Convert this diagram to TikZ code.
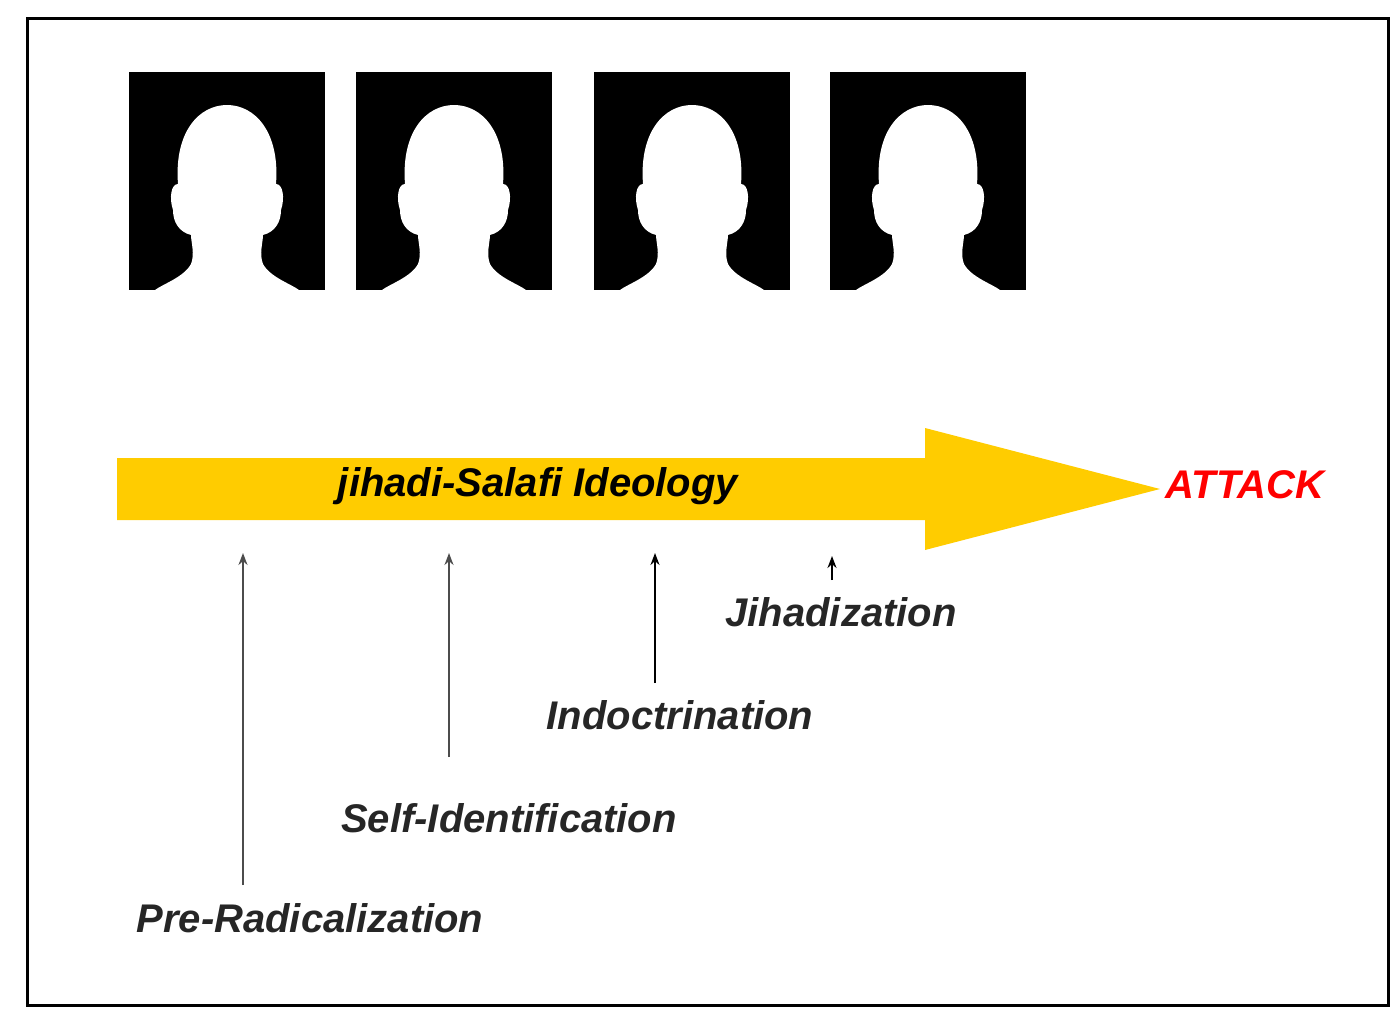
\documentclass[tikz,border=0pt]{standalone}
\usepackage{fontspec}
\setmainfont{Liberation Sans}
\usetikzlibrary{arrows.meta}
\definecolor{ayellow}{RGB}{255,204,0}
\tikzset{
  lbl/.style={font=\fontsize{40}{42}\selectfont\bfseries\itshape, text=black!85},
  up/.style={-{Stealth[length=12pt,width=9pt]}, line width=2pt, draw=black!70},
  person/.pic={
    \fill[black] (0,0) rectangle (196,218);
    \fill[white] (26,218) .. controls (34,212) and (55,205) .. (62,192)
      .. controls (66,182) and (62,170) .. (62,163)
      .. controls (50,160) and (44,150) .. (44,138) .. controls (40,126) and (42,112) .. (49,112)
      .. controls (45,60) and (70,33) .. (98,33)
      .. controls (126,33) and (151,60) .. (147,112)
      .. controls (154,112) and (156,126) .. (152,138) .. controls (152,150) and (146,160) .. (134,163)
      .. controls (134,170) and (130,182) .. (134,192)
      .. controls (141,205) and (162,212) .. (170,218) -- cycle;
  }
}
\begin{document}
\begin{tikzpicture}[x=1pt,y=-1pt]
\useasboundingbox (0,0) rectangle (1397,1009);
\draw[line width=3pt] (27,18) rectangle (1388,1005);
\foreach \x/\n in {129/a,356/b,594/c,830/d}
  \pic (p\n) at (\x,72) {person};
\fill[ayellow] (117,458) -- (925,458) -- (925,428) -- (1160,489) -- (925,550) -- (925,520) -- (117,520) -- cycle;
\node[lbl, text=black] (ideo) at (538,486) {jihadi-Salafi Ideology};
\node[lbl, text=red] (att) at (1245,485) {ATTACK};
\coordinate (t1) at (243,553); \coordinate (t2) at (449,553);
\coordinate (t3) at (655,553); \coordinate (t4) at (832,556);
\node[lbl] (l1) at (310,918) {Pre-Radicalization};
\node[lbl] (l2) at (509,818) {Self-Identification};
\node[lbl] (l3) at (680,715) {Indoctrination};
\node[lbl] (l4) at (841,612) {Jihadization};
\coordinate (s1) at (243,885); \coordinate (s2) at (449,757);
\coordinate (s3) at (655,683); \coordinate (s4) at (832,580);
\draw[up] (s1) -- (t1);
\draw[up] (s2) -- (t2);
\draw[up, draw=black] (s3) -- (t3);
\draw[up, draw=black] (s4) -- (t4);
\end{tikzpicture}
\end{document}
